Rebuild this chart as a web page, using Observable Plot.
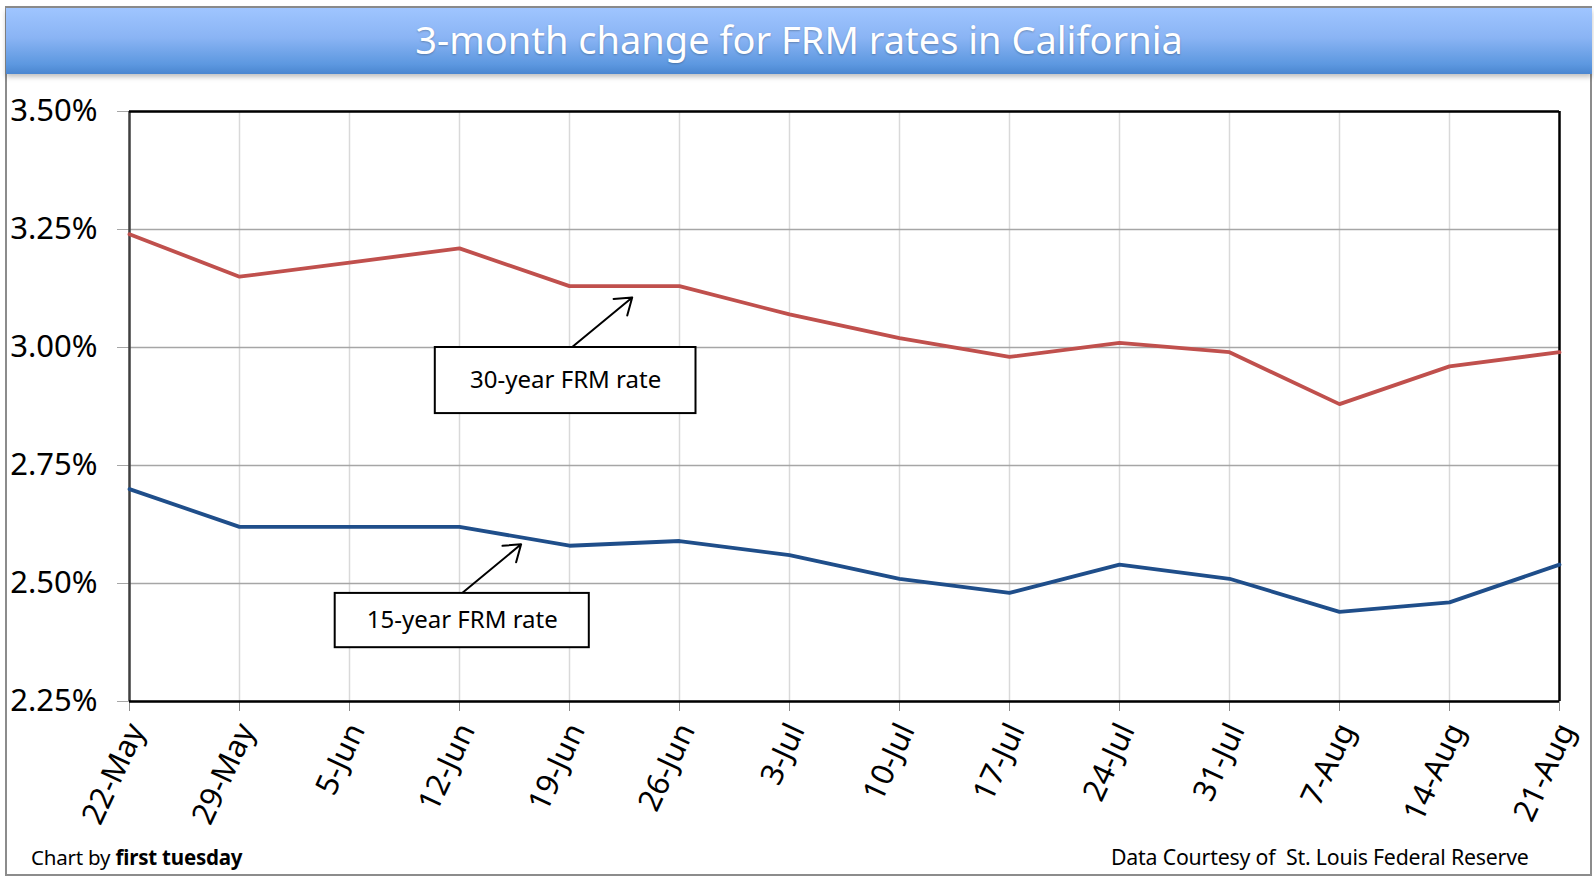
<!DOCTYPE html>
<html>
<head>
<meta charset="utf-8">
<script src="https://cdn.jsdelivr.net/npm/d3@7"></script>
<script src="https://cdn.jsdelivr.net/npm/@observablehq/plot@0.6"></script>
<style>
  html, body { margin: 0; padding: 0; background: #fff; }
  #wrap { position: relative; width: 1594px; height: 882px; overflow: hidden; font-family: "Noto Sans", sans-serif; }
  #frame { position: absolute; left: 5px; top: 6px; width: 1583px; height: 866px; border: 2.5px solid #8c8c8c; box-sizing: content-box; }
  #title { position: absolute; left: 6px; top: 8px; width: 1586px; height: 66px;
    background: linear-gradient(to bottom, #9fc5ff 0%, #8ab4f4 45%, #5d98e0 85%, #4a86d0 100%);
    box-shadow: 0 3px 5px rgba(0,0,0,0.25);
    color: #fff; font-size: 38px; line-height: 62px; text-align: center;
    text-shadow: 0 1px 2px rgba(0,0,0,0.25); }
  #chart { position: absolute; left: 0; top: 76px; }
  .foot { position: absolute; top: 844px; font-size: 20.5px; color: #000; line-height: 26px; letter-spacing: -0.2px; }
</style>
</head>
<body>
<div id="wrap">
  <div id="frame"></div>
  <div id="title">3-month change for FRM rates in California</div>
  <div id="chart"></div>
  <div class="foot" style="left:31px;">Chart by <b>first tuesday</b></div>
  <div class="foot" style="left:1111px; font-size:21.3px;">Data Courtesy of&nbsp; St. Louis Federal Reserve</div>
</div>
<script>
// ---- data ----
const dates = ["22-May","29-May","5-Jun","12-Jun","19-Jun","26-Jun","3-Jul","10-Jul","17-Jul","24-Jul","31-Jul","7-Aug","14-Aug","21-Aug"];
const rate30 = [3.24, 3.15, 3.18, 3.21, 3.13, 3.13, 3.07, 3.02, 2.98, 3.01, 2.99, 2.88, 2.96, 2.99];
const rate15 = [2.70, 2.62, 2.62, 2.62, 2.58, 2.59, 2.56, 2.51, 2.48, 2.54, 2.51, 2.44, 2.46, 2.54];
const yTicks = [2.25, 2.50, 2.75, 3.00, 3.25, 3.50];
// annotation boxes / arrows, anchored in data units (x = week index, y = rate %)
const labelNames = ["30-year FRM rate", "15-year FRM rate"];
const labelBoxX = [[2.78, 5.15], [1.87, 4.18]];
const labelBoxY = [[3.00, 2.86], [2.479, 2.364]];
const arrowFrom = [[4.03, 3.002], [3.03, 2.481]];
const arrowTo = [[4.57, 3.106], [3.56, 2.583]];

const idx = d3.range(dates.length);
const s30 = idx.map(i => ({i, v: rate30[i]}));
const s15 = idx.map(i => ({i, v: rate15[i]}));
const boxes = labelNames.map((name, k) => ({
  name, x1: labelBoxX[k][0], x2: labelBoxX[k][1], y1: labelBoxY[k][0], y2: labelBoxY[k][1],
  ax1: arrowFrom[k][0], ay1: arrowFrom[k][1], ax2: arrowTo[k][0], ay2: arrowTo[k][1]
}));

const chart = Plot.plot({
  width: 1594,
  height: 770,
  marginLeft: 129,
  marginRight: 35,
  marginTop: 35,
  marginBottom: 145,
  style: {fontFamily: "Noto Sans", background: "transparent", overflow: "visible", color: "#000"},
  x: {type: "linear", domain: [0, dates.length - 1]},
  y: {domain: [2.25, 3.5]},
  marks: [
    Plot.gridX(idx, {stroke: "#d9d9d9", strokeOpacity: 1, strokeWidth: 1.5}),
    Plot.gridY(yTicks, {stroke: "#a6a6a6", strokeOpacity: 1, strokeWidth: 1.5}),
    Plot.axisY(yTicks, {tickSize: 12, tickPadding: 20, tickFormat: d => d.toFixed(2) + "%", fontSize: 31, stroke: "#a6a6a6", fill: "#000", label: null}),
    Plot.axisX(idx, {tickSize: 10, tickFormat: () => "", stroke: "#8c8c8c", label: null}),
    Plot.axisX(idx, {tickSize: 0, tickPadding: 24, tickRotate: -65, tickFormat: i => dates[i], fontSize: 31, fill: "#000", label: null, dx: 7}),
    Plot.ruleX([0], {stroke: "#404040", strokeWidth: 2.5}),
    Plot.ruleX([dates.length - 1], {stroke: "#000", strokeWidth: 2.5}),
    Plot.ruleY([3.5], {stroke: "#000", strokeWidth: 2.5}),
    Plot.ruleY([2.25], {stroke: "#000", strokeWidth: 2.5}),
    Plot.line(s30, {x: "i", y: "v", stroke: "#c0504d", strokeWidth: 3.8}),
    Plot.line(s15, {x: "i", y: "v", stroke: "#1f4e8a", strokeWidth: 3.8}),
    Plot.arrow(boxes, {x1: "ax1", y1: "ay1", x2: "ax2", y2: "ay2", stroke: "#000", strokeWidth: 2, headLength: 14, headAngle: 70}),
    Plot.rect(boxes, {x1: "x1", x2: "x2", y1: "y1", y2: "y2", fill: "#fff", stroke: "#000", strokeWidth: 2}),
    Plot.text(boxes, {x: d => (d.x1 + d.x2) / 2, y: d => (d.y1 + d.y2) / 2, text: "name", fontSize: 24, fill: "#000"})
  ]
});
document.getElementById("chart").appendChild(chart);
</script>
</body>
</html>
